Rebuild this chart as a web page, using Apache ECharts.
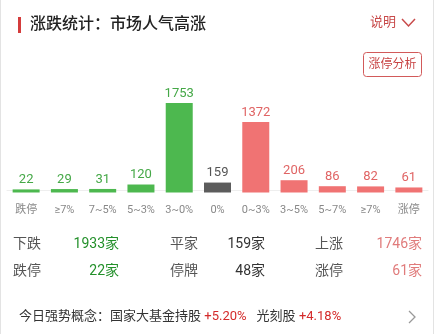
<!DOCTYPE html>
<html>
<head>
<meta charset="utf-8">
<script src="https://cdn.jsdelivr.net/npm/echarts@6/dist/echarts.min.js"></script>
<style>
  html, body { margin: 0; padding: 0; background: #fff; }
  #chart { width: 435px; height: 334px; }
</style>
</head>
<body>
<div id="chart"></div>
<script>
// 涨跌分布
var categories = ['跌停', '≥7%', '7~5%', '5~3%', '3~0%', '0%', '0~3%', '3~5%', '5~7%', '≥7%', '涨停'];
var counts = [22, 29, 31, 120, 1753, 159, 1372, 206, 86, 82, 61];
var flatIndex = 5;

// 统计
var statLabels = [['下跌', '平家', '上涨'], ['跌停', '停牌', '涨停']];
var statValues = [[1933, 159, 1746], [22, 48, 61]];

// 强势概念
var conceptNames = ['国家大基金持股', '光刻股'];
var conceptChanges = ['+5.20%', '+4.18%'];

var FONT = 'Roboto, "Noto Sans CJK SC", sans-serif';
var GREEN = '#4db84f', GRAY = '#5c5c5c', RED = '#f07373';
var colorOf = function (i) { return i < flatIndex ? GREEN : (i === flatIndex ? GRAY : RED); };
var labelColorOf = function (i) { return i < flatIndex ? '#45a847' : (i === flatIndex ? '#555' : '#e06464'); };
var statColors = ['#23902a', '#333', '#e07b7b'];

var myChart = echarts.init(document.getElementById('chart'));

var graphics = [
  // 边框
  { type: 'line', shape: { x1: 0.5, y1: 0, x2: 0.5, y2: 334 }, style: { stroke: '#e3e3e3', lineWidth: 1 } },
  { type: 'line', shape: { x1: 433.5, y1: 0, x2: 433.5, y2: 334 }, style: { stroke: '#e3e3e3', lineWidth: 1 } },
  // 标题
  { type: 'rect', shape: { x: 18, y: 17, width: 3, height: 16 }, style: { fill: '#d43c3c' } },
  { type: 'text', x: 30, y: 25, style: { text: '涨跌统计：市场人气高涨', font: '500 16px ' + FONT, fill: '#222', textVerticalAlign: 'middle' } },
  { type: 'text', x: 370, y: 23, style: { text: '说明', font: '13px ' + FONT, fill: '#c84a4a', textVerticalAlign: 'middle' } },
  { type: 'polyline', shape: { points: [[402, 19], [408.5, 26], [415, 19]] }, style: { stroke: '#c84a4a', lineWidth: 1.5, fill: null } },
  // 涨停分析按钮
  { type: 'rect', shape: { x: 363.5, y: 52.5, width: 58, height: 24, r: 3 }, style: { fill: '#fff', stroke: '#d25a5a', lineWidth: 1 } },
  { type: 'text', x: 392.5, y: 65, style: { text: '涨停分析', font: '12px ' + FONT, fill: '#c84444', textAlign: 'center', textVerticalAlign: 'middle' } }
];

// 统计表
var colLabelX = [13, 170, 315];
var colValueX = [119, 265, 422];
var rowY = [244, 271];
statLabels.forEach(function (row, r) {
  row.forEach(function (lab, c) {
    graphics.push({ type: 'text', x: colLabelX[c], y: rowY[r], style: { text: lab, font: '14px ' + FONT, fill: '#555', textVerticalAlign: 'middle' } });
    graphics.push({ type: 'text', x: colValueX[c], y: rowY[r], style: { text: statValues[r][c] + '家', font: '14px ' + FONT, fill: statColors[c], textAlign: 'right', textVerticalAlign: 'middle' } });
  });
});

// 今日强势概念
graphics.push({
  type: 'text', x: 19, y: 317,
  style: {
    text: '{t|今日强势概念：' + conceptNames[0] + '} {r|' + conceptChanges[0] + '}   {t|' + conceptNames[1] + '} {r|' + conceptChanges[1] + '}',
    rich: {
      t: { fontSize: 13, fontFamily: FONT, fill: '#333' },
      r: { fontSize: 13, fontFamily: FONT, fill: '#d42a2a' }
    },
    textVerticalAlign: 'middle'
  }
});
graphics.push({ type: 'polyline', shape: { points: [[409, 311], [415, 317], [409, 323]] }, style: { stroke: '#999', lineWidth: 1.3, fill: null } });

var option = {
  animation: false,
  grid: { left: 7, right: 7, top: 103, bottom: 141.5 },
  xAxis: {
    type: 'category',
    data: categories,
    axisLine: { lineStyle: { color: '#eeeeee' } },
    axisTick: { show: false },
    axisLabel: { color: '#888', fontSize: 11, fontFamily: FONT, margin: 12, interval: 0 }
  },
  yAxis: {
    type: 'value',
    show: false,
    min: -40,
    max: 1753,
    startValue: -40,
    splitLine: { show: false }
  },
  series: [{
    type: 'bar',
    barWidth: 27,
    data: counts.map(function (v, i) {
      return {
        value: v,
        itemStyle: { color: colorOf(i) },
        label: { color: labelColorOf(i) }
      };
    }),
    label: { show: true, position: 'top', distance: 3, fontSize: 13, fontFamily: FONT }
  }],
  graphic: graphics
};
myChart.setOption(option);
</script>
</body>
</html>
